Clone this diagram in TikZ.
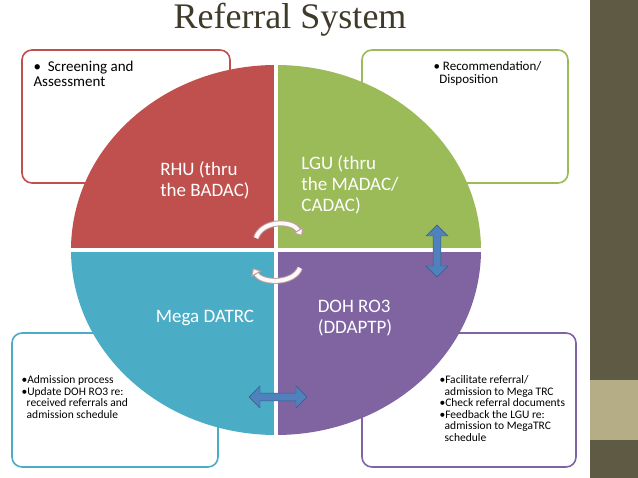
\documentclass[tikz,border=0pt]{standalone}
\usepackage{fontspec}
\setmainfont{Carlito}
\newfontfamily\titlefont{Liberation Serif}
\usetikzlibrary{shapes.arrows,arrows.meta}
\definecolor{cred}{HTML}{C0504D}
\definecolor{cgreen}{HTML}{9BBB59}
\definecolor{cblue}{HTML}{4BACC6}
\definecolor{cpurple}{HTML}{8064A2}
\definecolor{olive}{HTML}{5F5A43}
\definecolor{olivel}{HTML}{B5AD85}
\definecolor{titlec}{HTML}{3F3A2A}
\definecolor{arrb}{HTML}{4F81BD}
\tikzset{
 box/.style={draw=#1,line width=1.6pt,rounded corners=10pt,fill=white},
 btxt/.style={text=black,align=left,anchor=north west,font=\fontsize{#1}{#1}\selectfont},
 qtxt/.style={text=white,align=left,font=\fontsize{19}{21}\selectfont},
 darr/.style={double arrow,fill=arrb,draw=arrb!70!black,minimum width=22pt,double arrow head extend=4pt,inner sep=2pt},
 curv/.style={draw=pink!50!gray,double=white!90!pink,double distance=4pt,line width=1pt,-{Triangle[length=7pt,width=12pt,fill=white!90!pink]}}
}
\begin{document}
\begin{tikzpicture}[x=1pt,y=-1pt]
\useasboundingbox (0,0) rectangle (638,478);
\fill[white] (0,0) rectangle (638,478);
\fill[olive] (590,0) rectangle (638,380);
\fill[olivel] (590,380) rectangle (638,440);
\fill[olive] (590,440) rectangle (638,478);
\node[titlec,font=\titlefont\fontsize{36}{36}\selectfont] (title) at (290,20) {Referral System};
% boxes
\node[box=cred,minimum width=208pt,minimum height=133pt] (b1) at (126,116.5) {};
\node[box=cgreen,minimum width=206pt,minimum height=133pt] (b2) at (465,116.5) {};
\node[box=cblue,minimum width=206pt,minimum height=134pt] (b3) at (115,400) {};
\node[box=cpurple,minimum width=214pt,minimum height=134pt] (b4) at (469,400) {};
\node[btxt=15] (t1) at (30,58) {\textbullet\ \ Screening and\\ Assessment};
\node[btxt=13] (t2) at (430,58) {\textbullet\ Recommendation/\\ \ \ Disposition};
\node[btxt=11.5] (t3) at (18,372) {\textbullet Admission process\\ \textbullet Update DOH RO3 re:\\ \ \ received referrals and\\ \ \ admission schedule};
\node[btxt=11.5] (t4) at (436,372) {\textbullet Facilitate referral/\\ \ \ admission to Mega TRC\\ \textbullet Check referral documents\\ \textbullet Feedback the LGU re:\\ \ \ admission to MegaTRC\\ \ \ schedule};
% circle
\begin{scope}
\clip (276,250) ellipse [x radius=205, y radius=185];
\fill[cred] (60,50) rectangle (276,250);
\fill[cgreen] (276,50) rectangle (490,250);
\fill[cblue] (60,250) rectangle (276,450);
\fill[cpurple] (276,250) rectangle (490,450);
\draw[white,line width=4pt] (276,50) -- (276,450) (60,250) -- (490,250);
\end{scope}
\node[qtxt] (q1) at (205,180) {RHU (thru\\the BADAC)};
\node[qtxt] (q2) at (350,185) {LGU (thru\\the MADAC/\\CADAC)};
\node[qtxt] (q3) at (205,318) {Mega DATRC};
\node[qtxt] (q4) at (355,318) {DOH RO3\\(DDAPTP)};
\draw[curv] (256,238) .. controls (262,220) and (292,220) .. (302,236);
\draw[curv] (300,268) .. controls (294,284) and (262,284) .. (253,268);
\node[darr,rotate=90,minimum height=52pt] (a1) at (437,251) {};
\node[darr,minimum height=58pt] (a2) at (278,397) {};
\end{tikzpicture}
\end{document}
